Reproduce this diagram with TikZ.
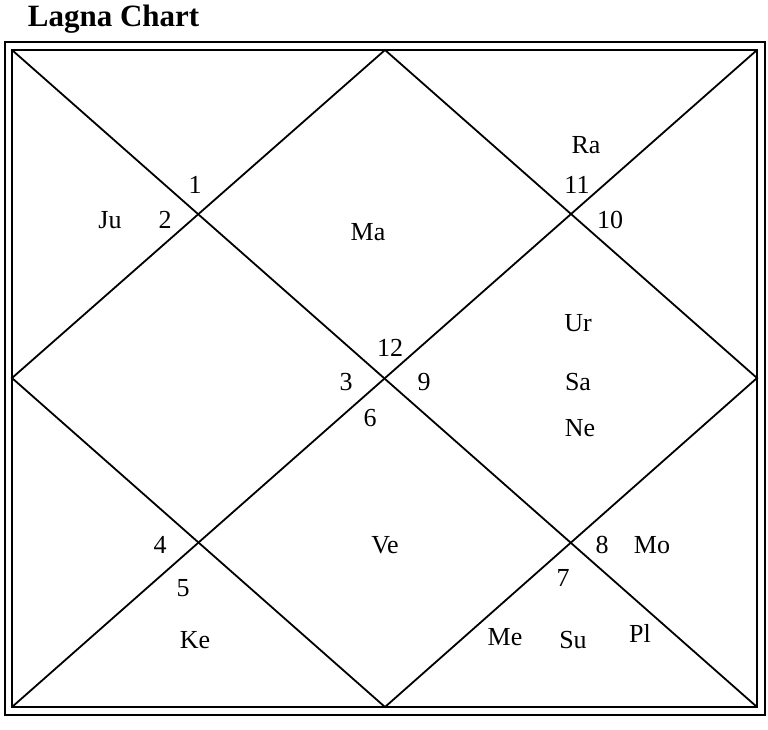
\documentclass[tikz,border=0pt]{standalone}
\usepackage{fontspec}
\setmainfont{Liberation Serif}
\begin{document}
\begin{tikzpicture}[x=1pt,y=-1pt,line width=1.8pt,
  lab/.style={inner sep=0pt,font=\fontsize{26}{30}\selectfont}]
\useasboundingbox (0,0) rectangle (768,729);
\node[anchor=west,inner sep=0pt,font=\fontsize{31}{34}\selectfont\bfseries] (title) at (27,19) {Lagna Chart};
\draw (5,42) rectangle (765,715);
\coordinate (tl) at (12,50); \coordinate (tr) at (757,50);
\coordinate (bl) at (12,707); \coordinate (br) at (757,707);
\coordinate (t) at (385,50); \coordinate (b) at (385,707);
\coordinate (l) at (12,378); \coordinate (r) at (757,378);
\draw (tl) rectangle (br);
\draw (tl) -- (br); \draw (tr) -- (bl);
\draw (t) -- (r) -- (b) -- (l) -- cycle;
\foreach \n/\x/\y/\s in {ra/586/145/Ra, a11/577/185/11, a10/610/220/10, a1/195/185/1,
  ju/110/220/Ju, a2/165/220/2, ma/368/232/Ma, ur/578/323/Ur, a12/390/348/12,
  a3/346/382/3, a9/424/382/9, sa/578/382/Sa, a6/370/418/6, ne/580/428/Ne,
  a4/160/545/4, ve/385/545/Ve, a8/602/545/8, mo/652/545/Mo, a5/183/588/5,
  a7/563/578/7, ke/195/640/Ke, me/505/637/Me, su/573/640/Su, pl/640/633/Pl}
  \node[lab] (\n) at (\x,\y) {\s};
\end{tikzpicture}
\end{document}
